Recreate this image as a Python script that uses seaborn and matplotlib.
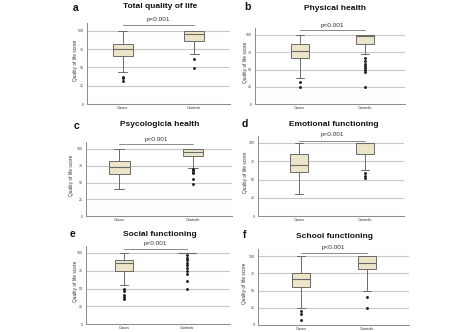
import matplotlib
matplotlib.use("Agg")
import matplotlib.pyplot as plt
import seaborn as sns

sns.set_style("white")
plt.rcParams['font.family'] = ['Liberation Sans', 'DejaVu Sans']

# ---------------- data ----------------
titles = ["Total quality of life", "Physical health", "Psycologicla health",
          "Emotional functioning", "Social functioning", "School functioning"]
letters = ["a", "b", "c", "d", "e", "f"]
groups = ["Cases", "Controls"]
yticks = [0, 25, 50, 75, 100]
ptext = "p<0.001"

cases_whislo = [44, 37, 40, 29.5, 55, 25]
cases_q1 = [65.5, 66, 63, 60, 75, 55]
cases_med = [75, 77, 72.5, 70.5, 86, 66]
cases_q3 = [82.2, 87.5, 82, 85, 90.7, 75.5]
cases_whishi = [100, 100, 100, 100, 100, 100]
cases_fliers = [[37.5, 35, 31], [32, 25], [], [], [50, 46, 41, 38, 35], [21, 16, 7.6]]

controls_whislo = [68, 72, 71.5, 62.5, 100, 50]
controls_q1 = [86, 87.5, 89.5, 85, 100, 80.5]
controls_med = [95.6, 98.5, 96, 100, 100, 90.5]
controls_q3 = [99.5, 100, 100, 100, 100, 100]
controls_whishi = [100, 100, 100, 100, 100, 100]
controls_fliers = [[61.4, 49], [66, 62, 58.6, 55, 52, 49, 47, 25],
                   [70, 68, 66, 64, 55, 47.5], [59.5, 55, 52],
                   [97, 93.5, 90, 86, 82.5, 79, 75, 71, 60, 50], [40.5, 25]]

# ---------------- layout (pixels, top-origin) ----------------
W, H = 474, 332
# left, right, y0(px of value 0), px per unit, xlim
layout = [
    (87, 230, 104, 0.733, (-0.5, 1.5)),
    (255, 405, 104, 0.69, (-0.69, 1.62)),
    (86, 232, 216, 0.67, (-0.45, 1.53)),
    (258, 404, 216, 0.73, (-0.62, 1.59)),
    (86, 230, 324, 0.71, (-0.6, 1.68)),
    (258, 409, 325, 0.69, (-0.65, 1.64)),
]
title_pos = [(160, 7), (335, 8), (160, 125), (334, 124), (160, 235), (334, 236)]
letter_pos = [(76, 8), (247, 7), (76, 126), (245, 124), (73, 234), (245, 235)]
pline_y = [25, 30, 144, 141, 249, 253]
ptext_y = [20, 25, 139, 135, 243, 247]
ylabel_x = [76, 246, 72, 246, 76, 244]
YTOP = 110

fig = plt.figure(figsize=(W / 100, H / 100), dpi=100)
fig.patch.set_facecolor("white")

box_face = "#ede5ca"
edge = "#6a6a6a"

for i in range(6):
    left, right, y0, ppu, xl = layout[i]
    top = y0 - YTOP * ppu
    ax = fig.add_axes([left / W, 1 - y0 / H, (right - left) / W, (y0 - top) / H])
    stats = [
        dict(whislo=cases_whislo[i], q1=cases_q1[i], med=cases_med[i], q3=cases_q3[i],
             whishi=cases_whishi[i], fliers=cases_fliers[i], label=groups[0]),
        dict(whislo=controls_whislo[i], q1=controls_q1[i], med=controls_med[i], q3=controls_q3[i],
             whishi=controls_whishi[i], fliers=controls_fliers[i], label=groups[1]),
    ]
    ax.yaxis.grid(True, color="#c8c8c8", linewidth=0.8)
    ax.set_axisbelow(True)
    ax.bxp(stats, positions=[0, 1], widths=0.28, capwidths=0.13, patch_artist=True,
           boxprops=dict(facecolor=box_face, edgecolor=edge, linewidth=0.7),
           medianprops=dict(color=edge, linewidth=0.8),
           whiskerprops=dict(color=edge, linewidth=0.7),
           capprops=dict(color=edge, linewidth=0.7),
           flierprops=dict(marker="o", markersize=1.1, markerfacecolor="#222222",
                           markeredgecolor="#222222", linestyle="none"))
    ax.set_xlim(*xl)
    ax.set_ylim(0, YTOP)
    ax.set_yticks(yticks)
    ax.set_yticklabels([str(t) for t in yticks])
    ax.tick_params(axis="y", labelsize=2.6, length=1.2, width=0.4, pad=1, colors="#444444")
    ax.tick_params(axis="x", labelsize=2.8, length=0, pad=1.5, colors="#333333")
    sns.despine(ax=ax, top=True, right=True)
    for s in ["left", "bottom"]:
        ax.spines[s].set_color("#8a8a8a")
        ax.spines[s].set_linewidth(0.7)

    # p-value line and text
    yfrac = (y0 - pline_y[i]) / (y0 - top)
    ax.plot([0, 1], [yfrac, yfrac], transform=ax.get_xaxis_transform(),
            color="#8a8a8a", linewidth=0.7, clip_on=False)
    fig.text(ax.transData.transform((0.5, 0))[0] / (fig.dpi * fig.get_figwidth()),
             1 - ptext_y[i] / H, ptext, ha="center", va="center", fontsize=4.6, color="#333333")

    fig.text(title_pos[i][0] / W, 1 - title_pos[i][1] / H, titles[i], ha="center", va="center",
             fontsize=6, fontweight="bold", color="#111111")
    fig.text(letter_pos[i][0] / W, 1 - letter_pos[i][1] / H, letters[i], ha="center", va="center",
             fontsize=7.5, fontweight="bold", color="#111111")
    fig.text(ylabel_x[i] / W, 1 - (y0 - 60 * ppu) / H, "Quality of life score", rotation=90,
             ha="center", va="center", fontsize=3.4, color="#333333")

fig.savefig("out.png", dpi=100, facecolor="white")
